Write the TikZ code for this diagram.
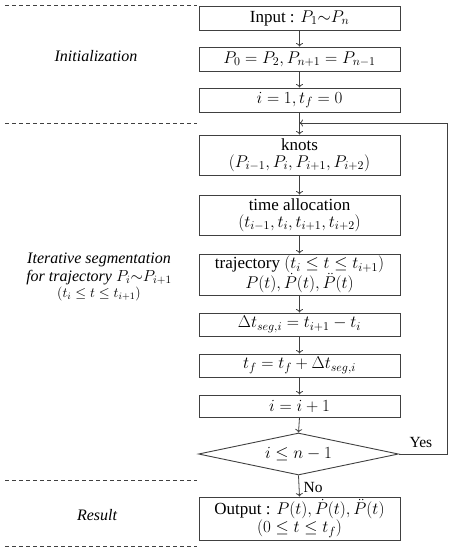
\RequirePackage{fix-cm}
\documentclass[tikz,border=0pt]{standalone}
\usepackage[no-math]{fontspec}
\setmainfont{Liberation Serif}
\usetikzlibrary{shapes.geometric,arrows.meta}
\definecolor{ln}{HTML}{404040}
\tikzset{
  box/.style={draw=ln,line width=0.9pt,minimum width=201pt,inner sep=0pt,align=center,font=\fontsize{17}{20}\selectfont},
  dia/.style={draw=ln,line width=0.9pt,shape=diamond,aspect=4.8,minimum width=200pt,minimum height=42pt,inner sep=0pt,font=\fontsize{17}{20}\selectfont},
  arr/.style={draw=ln,line width=0.8pt,-{To[length=3.5pt,width=7pt]}},
  sep/.style={draw=ln,line width=0.7pt,dash pattern=on 4pt off 3pt},
  lab/.style={align=center,font=\fontsize{16}{19}\selectfont\itshape},
  note/.style={font=\fontsize{15.5}{18}\selectfont}
}
\begin{document}
\begin{tikzpicture}[x=1pt,y=-1pt]
\useasboundingbox (0,0) rectangle (452,550);
% boxes
\node[box,minimum height=24pt] (b1) at (299.5,18) {Input : $P_1{\sim}P_n$};
\node[box,minimum height=24pt] (b2) at (299.5,59) {$P_0=P_2,P_{n+1}=P_{n-1}$};
\node[box,minimum height=24pt] (b3) at (299.5,100) {$i=1,t_f=0$};
\node[box,minimum height=40pt] (b4) at (299.5,155) {knots\\[-3pt]$(P_{i-1},P_i,P_{i+1},P_{i+2})$};
\node[box,minimum height=40pt] (b5) at (299.5,215) {time allocation\\[-3pt]$(t_{i-1},t_i,t_{i+1},t_{i+2})$};
\node[box,minimum height=41pt] (b6) at (299.5,274.5) {trajectory $(t_i\le t\le t_{i+1})$\\[0pt]$P(t),\dot P(t),\ddot P(t)$};
\node[box,minimum height=23pt] (b7) at (299.5,324.5) {$\Delta t_{seg,i}=t_{i+1}-t_i$};
\node[box,minimum height=23pt] (b8) at (299.5,365.5) {$t_f=t_f+\Delta t_{seg,i}$};
\node[box,minimum height=22pt] (b9) at (299.5,406) {$i=i+1$};
\node[dia] (d) at (298.5,454) {$i\le n-1$};
\node[box,minimum height=43pt] (out) at (299.5,518.5) {Output : $P(t),\dot P(t),\ddot P(t)$\\[-2pt]$(0\le t\le t_f)$};
% connectors
\draw[arr] (b1) -- (b2);
\draw[arr] (b2) -- (b3);
\draw[arr] (b3) -- (b4);
\draw[arr] (b4) -- (b5);
\draw[arr] (b5) -- (b6);
\draw[arr] (b6) -- (b7);
\draw[arr] (b7) -- (b8);
\draw[arr] (b8) -- (b9);
\draw[arr] (b9.south) -- (d.north);
\draw[arr] (d.south) -- node[note,right,xshift=1pt,yshift=-1pt] (no) {No} (out.north);
\coordinate (rc) at (447,123);
\coordinate (lp) at (299.5,123);
\draw[arr] (d.east) -| (rc) -- (lp);
\node[note] (yes) at (421,442) {Yes};
% separators
\coordinate (s1a) at (5,5);   \coordinate (s1b) at (197,5);
\coordinate (s2a) at (5,123); \coordinate (s2b) at (197,123);
\coordinate (s3a) at (5,480); \coordinate (s3b) at (197,480);
\coordinate (s4a) at (5,546); \coordinate (s4b) at (197,546);
\draw[sep] (s1a) -- (s1b);
\draw[sep] (s2a) -- (s2b);
\draw[sep] (s3a) -- (s3b);
\draw[sep] (s4a) -- (s4b);
% phase labels
\node[lab] (l1) at (96,56) {Initialization};
\node[lab] (l2) at (99,277) {Iterative segmentation\\[-1pt]for trajectory $P_i{\sim}P_{i+1}$\\[-3pt]{\upshape\fontsize{14}{16}\selectfont$(t_i\le t\le t_{i+1})$}};
\node[lab] (l3) at (97,515) {Result};
\end{tikzpicture}
\end{document}
